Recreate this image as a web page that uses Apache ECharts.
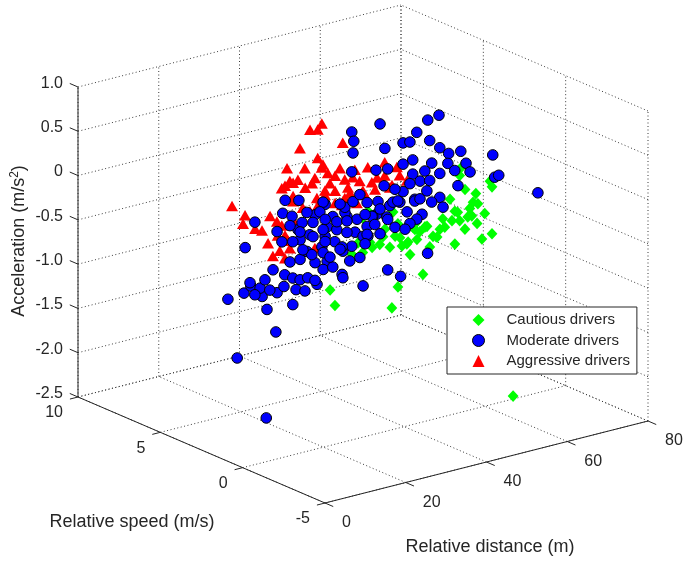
<!DOCTYPE html>
<html>
<head>
<meta charset="utf-8">
<script src="https://cdn.jsdelivr.net/npm/echarts@6/dist/echarts.min.js"></script>
<style>html,body{margin:0;padding:0;background:#fff}#ChartMain{width:685px;height:561px}</style>
</head>
<body>
<div id="ChartMain"></div>
<script>
// tick values of the three axes
var distTicks = [0, 20, 40, 60, 80];
var distLabels = ['0', '20', '40', '60', '80'];
var speedTicks = [-5, 0, 5, 10];
var speedLabels = ['-5', '0', '5', '10'];
var accTicks = [-2.5, -2.0, -1.5, -1.0, -0.5, 0, 0.5, 1.0];
var accLabels = ['-2.5', '-2.0', '-1.5', '-1.0', '-0.5', '0', '0.5', '1.0'];

// [relative distance (m), relative speed (m/s), acceleration (m/s2)]
var cautious = [
    [13.5,-2,-0.49],[14.7,-2,-0.68],[30.3,-2,-0.65],[28.8,-2,-0.87],[62.9,-1,-2.34],[36.5,-2,-0.58],
    [50.1,-2,0.06],[47.6,-2,-0.06],[45.1,-2,0.02],[39.6,-3,0.07],[49.9,-2,-0.16],[53.6,-2,-0.32],
    [51.1,-2,-0.35],[40.0,-2,-0.20],[37.5,-2,-0.05],[35.7,-2,-0.09],[36.9,-1,-0.30],[31.3,-2,-0.20],
    [28.3,-2,-0.18],[29.6,-2,-0.07],[23.9,-2,-0.13],[20.4,-2,-0.04],[21.6,-2,-0.16],[32.8,-2,0.01],
    [35.0,-2,0.03],[26.2,-3,0.19],[53.6,-2,0.21],[53.1,-2,0.28],[49.6,-2,0.18],[48.9,-2,0.09],
    [46.1,-2,0.52],[45.6,-2,0.43],[48.6,-2,-0.06],[44.4,-2,0.04],[45.6,-2,-0.08],[41.4,-2,-0.01],
    [37.0,-2,-0.05],[39.0,-2,-0.18],[35.0,-2,-0.17],[32.5,-2,-0.19],[22.9,-2,0.29],[21.6,-2,0.23],
    [29.1,-2,0.21],[34.0,-2,-0.02],[26.6,-2,-0.04],[23.4,-2,-0.07],[18.9,-2,-0.15],[27.1,-2,0.04],
    [40.7,-2,-0.12],[43.2,-2,0.19],[51.0,-1,0.13],[33.3,-2,-0.32],[30.8,-2,-0.10],
    [41.9,-2,-0.11],[46.9,-2,-0.19],[38.2,-2,-0.29],[34.5,-2,-0.05],[48.1,-2,0.03],[51.8,-2,-0.07],
    [44.4,-2,-0.33],[25.8,-2,-0.12],[17.2,-2,-0.06]
];
var moderate = [
    [38.1,1,0.86],[31.1,1,0.85],[31.6,1,0.74],[31.4,1,0.61],[31.1,1,0.40],[39.3,1,0.57],
    [54.0,2,0.64],[52.7,1,0.79],[47.2,1,0.66],[43.8,1,0.58],[45.5,1,0.57],[50.4,1,0.53],
    [52.9,1,0.42],[55.1,1,0.33],[58.1,1,0.32],[70.1,2,0.06],[46.2,1,0.36],[50.9,1,0.27],
    [54.9,1,0.22],[59.4,1,0.17],[60.4,1,0.06],[66.5,1,-0.07],[67.5,1,-0.06],[77.2,1,-0.37],
    [43.8,1,0.34],[40.0,1,0.33],[37.1,1,0.35],[46.2,1,0.20],[49.2,1,0.20],[48.0,1,0.10],
    [50.4,1,0.08],[57.4,1,-0.06],[39.1,1,0.15],[45.5,1,0.10],[49.7,1,-0.03],[52.9,1,-0.14],
    [50.9,1,-0.17],[53.7,1,-0.26],[37.6,1,-0.01],[40.5,1,-0.09],[43.0,1,-0.08],[44.8,1,-0.21],
    [48.5,1,-0.28],[37.3,1,-0.15],[46.7,1,-0.09],[45.8,0,-0.61],[40.0,1,-0.81],[43.2,1,-0.92],
    [33.9,1,-0.92],[28.7,1,-0.73],[33.1,1,-0.59],[31.1,1,-0.44],[28.9,1,-0.47],[38.1,1,-0.38],
    [35.1,1,-0.37],[31.9,1,-0.29],[39.8,1,-0.21],[36.3,1,-0.16],[29.9,1,-0.09],[41.3,1,-0.06],
    [6.8,2,-1.50],[14.0,2,-2.26],[12.3,1,-1.19],[10.1,1,-0.91],[16.5,1,-0.93],[4.5,2,-0.81],
    [4.4,1,-0.66],[6.1,1,-0.60],[8.9,1,-0.75],[12.6,1,-0.75],[14.3,1,-0.70],[17.3,1,-0.77],
    [19.5,1,-0.81],[22.5,1,-0.77],[7.1,1,0.11],[14.0,1,0.13],[22.0,1,0.02],[26.4,1,-0.05],
    [29.4,1,-0.04],[32.4,1,-0.15],[12.6,1,-0.06],[17.8,1,-0.10],[20.7,1,-0.19],[25.0,1,-0.15],
    [27.4,1,-0.21],[29.9,1,-0.27],[13.8,1,-0.19],[18.3,1,-0.22],[24.5,1,-0.25],[26.9,1,-0.34],
    [33.9,1,-0.36],[4.7,1,-0.15],[20.0,1,-0.37],[23.7,1,-0.36],[28.7,1,-0.42],[15.8,1,-0.44],
    [18.3,1,-0.44],[22.0,1,-0.52],[25.0,1,-0.54],[21.2,1,-0.42],[24.0,1,-0.62],[26.4,1,-0.62],
    [11.6,1,-0.48],[14.5,1,-0.57],[16.5,1,-0.63],[18.3,1,-0.67],[20.2,1,-0.67],[22.0,1,-0.72],
    [5.9,1,-0.56],[8.4,1,-0.65],[10.8,1,-0.70],[28.9,1,-0.77],[14.6,1,0.27],[18.0,1,0.23],
    [24.5,1,0.11],[29.4,1,0.02],[31.4,1,0.06],[43.8,1,0.03],[46.7,1,-0.11],[42.5,1,-0.06],
    [24.0,1,0.14],[28.2,1,0.07],[34.9,1,0.01],[47.2,1,-0.32],[36.1,1,-0.16],[40.0,1,-0.24],
    [38.1,1,-0.10],[20.0,1,0.07],[23.2,1,0.04],[16.3,1,0.07],[18.8,1,-0.03],[18.3,1,-0.13],
    [21.5,1,-0.06],[24.5,1,-0.06],[27.4,1,-0.12],[29.9,1,-0.14],[34.9,1,-0.26],[24.0,1,-0.17],
    [21.5,1,-0.22],[16.5,1,-0.22],[24.5,1,-0.31],[34.9,1,-0.35],[19.0,1,-0.34],[24.0,1,-0.43],
    [28.2,1,-0.44],
    [33.1,1,0.12],[41.8,1,0.08],[34.4,1,-0.45],[36.8,1,-0.26],[41.8,1,-0.35],[45.5,1,-0.35],
    [25.7,1,-0.50],[30.6,1,-0.60],[15.8,1,-0.03],[9.6,1,-0.57],[7.1,1,-0.71],[44.3,1,-0.40],
    [52.9,1,0.13],[56.6,1,0.12],[48.0,1,-0.10],[34.4,1,-0.12]
];
var aggressive = [
    [9.6,3,0.09],[16.9,4,-0.18],[16.4,4,-0.27],[23.1,4,-0.26],[24.8,4,-0.34],[25.0,4,-0.50],
    [25.5,4,-0.68],[23.8,4,-0.72],[26.8,4,-0.78],[26.8,4,-0.52],[27.6,4,-0.59],[34.2,4,-0.75],
    [31.2,4,-0.26],[33.0,4,-0.32],[30.5,4,0.42],[33.0,4,0.60],[34.9,4,0.58],[40.0,5,0.51],
    [41.1,4,0.36],[28.0,4,0.08],[30.0,4,0.07],[34.2,4,0.04],[35.9,4,0.14],[37.4,4,0.06],
    [41.6,4,-0.06],[43.6,4,-0.06],[45.3,4,-0.12],[47.3,4,0.01],[46.1,4,-0.24],[34.7,4,-0.19],
    [36.7,4,-0.18],[39.2,4,-0.16],[41.6,4,-0.27],[49.6,4,-0.13],[54.5,4,-0.07],[57.0,4,-0.25],
    [28.8,4,0.05],[36.2,4,0.17],[52.8,4,-0.28],[42.9,4,-0.23],[45.8,4,-0.26],[36.7,4,-0.13],
    [40.9,4,-0.34],[28.8,4,-0.16],[26.0,4,-0.40],[36.2,4,-0.23],[53.3,4,-0.26],[46.6,4,-0.29],
    [31.8,4,-0.04],[39.2,4,0.01],[26.8,4,0.04],[44.1,4,0.02],[51.5,4,-0.13],[48.3,4,-0.17],
    [28.8,4,-0.10],
    [31.7,4,0.18],[33.5,4,-0.01],[37.9,4,-0.06],[40.4,4,0.08],[42.4,4,-0.16],[49.1,4,-0.26],
    [51.5,4,0.02],[55.2,4,-0.17],[44.6,4,-0.36],[29.3,4,-0.41],[22.6,4,-0.56],[21.1,4,-0.40],
    [28.0,4,-0.68],[27.3,4,0.23],[26.0,4,0.02],[34.9,4,0.26],[39.2,4,-0.30],[34.9,4,-0.28],
    [19.4,4,-0.36]
];

var FONT = '"Liberation Sans", Arial, sans-serif';

// view of the box: screen point of the (0,-5,-2.5) corner and the screen run of each full axis
var box = {ox: 325, oy: 503, d: [323, -82], s: [-247, -106], a: [0, -310]};
var range = {d: [0, 80], s: [-5, 10], a: [-2.5, 1.0]};

function project(d, s, a) {
    var fd = (d - range.d[0]) / (range.d[1] - range.d[0]);
    var fs = (s - range.s[0]) / (range.s[1] - range.s[0]);
    var fa = (a - range.a[0]) / (range.a[1] - range.a[0]);
    return [box.ox + fd * box.d[0] + fs * box.s[0] + fa * box.a[0],
            box.oy + fd * box.d[1] + fs * box.s[1] + fa * box.a[1]];
}

// grid lines on the two back walls and the floor
var gridLines = [];
accTicks.forEach(function (a) {
    gridLines.push([0, 10, a, 80, 10, a]);
    gridLines.push([80, -5, a, 80, 10, a]);
});
distTicks.forEach(function (d) {
    gridLines.push([d, 10, -2.5, d, 10, 1.0]);
    gridLines.push([d, -5, -2.5, d, 10, -2.5]);
});
speedTicks.forEach(function (s) {
    gridLines.push([80, s, -2.5, 80, s, 1.0]);
    gridLines.push([0, s, -2.5, 80, s, -2.5]);
});

// solid axis lines and outward ticks
var axisLines = [[0, 10, -2.5, 0, 10, 1.0], [0, 10, -2.5, 0, -5, -2.5], [0, -5, -2.5, 80, -5, -2.5]];
accTicks.forEach(function (a) { axisLines.push([0, 10, a, 0, 10.5, a]); });
speedTicks.forEach(function (s) { axisLines.push([0, s, -2.5, -2, s, -2.5]); });
distTicks.forEach(function (d) { axisLines.push([d, -5, -2.5, d, -5.5, -2.5]); });

var accLabelData = accTicks.map(function (a) { return [0, 10, a]; });
var speedLabelData = speedTicks.map(function (s) { return [0, s, -2.5]; });
var distLabelData = distTicks.map(function (d) { return [d, -5, -2.5]; });

function segmentItem(style) {
    return function (params, api) {
        var p1 = api.coord(project(api.value(0), api.value(1), api.value(2)));
        var p2 = api.coord(project(api.value(3), api.value(4), api.value(5)));
        return {type: 'line', silent: true, shape: {x1: p1[0], y1: p1[1], x2: p2[0], y2: p2[1]}, style: style};
    };
}

function labelItem(texts, dx, dy, align) {
    return function (params, api) {
        var p = api.coord(project(api.value(0), api.value(1), api.value(2)));
        return {
            type: 'text', silent: true, x: p[0] + dx, y: p[1] + dy,
            style: {text: texts[params.dataIndex], fill: '#262626', font: '16px ' + FONT, align: align, verticalAlign: 'middle'}
        };
    };
}

function markerItem(kind) {
    return function (params, api) {
        var p = api.coord(project(api.value(0), api.value(1), api.value(2)));
        var x = p[0], y = p[1];
        if (kind === 'circle') {
            return {type: 'circle', shape: {cx: x, cy: y, r: 5.3}, style: {fill: '#0000ff', stroke: '#000', lineWidth: 1}};
        }
        if (kind === 'diamond') {
            return {type: 'polygon', shape: {points: [[x, y - 5.8], [x + 5.4, y], [x, y + 5.8], [x - 5.4, y]]}, style: {fill: '#00ff00'}};
        }
        return {type: 'polygon', shape: {points: [[x, y - 6.5], [x + 6, y + 4], [x - 6, y + 4]]}, style: {fill: '#ff0000'}};
    };
}

function customSeries(name, data, renderItem, extra) {
    var s = {
        type: 'custom', name: name, coordinateSystem: 'cartesian2d', data: data,
        renderItem: renderItem, animation: false, silent: true
    };
    for (var k in extra) s[k] = extra[k];
    return s;
}

function GenerateChart() {
    var chart = echarts.init(document.getElementById('ChartMain'));
    var option = {
        animation: false,
        grid: {left: 0, right: 0, top: 0, bottom: 0},
        xAxis: {type: 'value', min: 0, max: 685, show: false},
        yAxis: {type: 'value', min: 0, max: 561, inverse: true, show: false},
        legend: {
            orient: 'vertical', left: 447, top: 307, selectedMode: false,
            backgroundColor: '#fff', borderColor: '#262626', borderWidth: 1, borderRadius: 0,
            padding: [5.5, 7, 5.5, 25], itemGap: 5.5, itemWidth: 12, itemHeight: 12,
            textStyle: {fontFamily: FONT, fontSize: 15, color: '#262626', padding: [0, 0, 0, 17]},
            data: [
                {name: 'Cautious drivers', icon: 'diamond', itemStyle: {color: '#00ff00'}},
                {name: 'Moderate drivers', icon: 'circle', itemStyle: {color: '#0000ff', borderColor: '#000', borderWidth: 1}},
                {name: 'Aggressive drivers', icon: 'triangle', itemStyle: {color: '#ff0000'}}
            ]
        },
        graphic: [
            {type: 'text', x: 19, y: 241, rotation: Math.PI / 2, silent: true,
             style: {text: 'Acceleration (m/s{sup|2})', font: '18px ' + FONT, fill: '#262626', align: 'center', verticalAlign: 'middle',
                     rich: {sup: {fontSize: 12, fontFamily: FONT, fill: '#262626', padding: [0, 0, 9, 0]}}}},
            {type: 'text', x: 132, y: 522, silent: true,
             style: {text: 'Relative speed (m/s)', font: '18px ' + FONT, fill: '#262626', align: 'center', verticalAlign: 'middle'}},
            {type: 'text', x: 490, y: 547, silent: true,
             style: {text: 'Relative distance (m)', font: '18px ' + FONT, fill: '#262626', align: 'center', verticalAlign: 'middle'}}
        ],
        series: [
            customSeries('grid', gridLines, segmentItem({stroke: '#3a3a3a', lineWidth: 1, lineDash: [1, 2.5]}), {z: 1}),
            customSeries('axes', axisLines, segmentItem({stroke: '#262626', lineWidth: 1}), {z: 1}),
            customSeries('accLabels', accLabelData, labelItem(accLabels, -15, -3.5, 'right'), {z: 1}),
            customSeries('speedLabels', speedLabelData, labelItem(speedLabels, -15, 16, 'right'), {z: 1}),
            customSeries('distLabels', distLabelData, labelItem(distLabels, 17, 20, 'left'), {z: 1}),
            customSeries('Cautious drivers', cautious, markerItem('diamond'), {itemStyle: {color: '#00ff00'}}),
            customSeries('Aggressive drivers', aggressive, markerItem('triangle'), {itemStyle: {color: '#ff0000'}}),
            customSeries('Moderate drivers', moderate, markerItem('circle'), {itemStyle: {color: '#0000ff', borderColor: '#000', borderWidth: 1}})
        ]
    };
    chart.setOption(option);
}

GenerateChart();
</script>
</body>
</html>
